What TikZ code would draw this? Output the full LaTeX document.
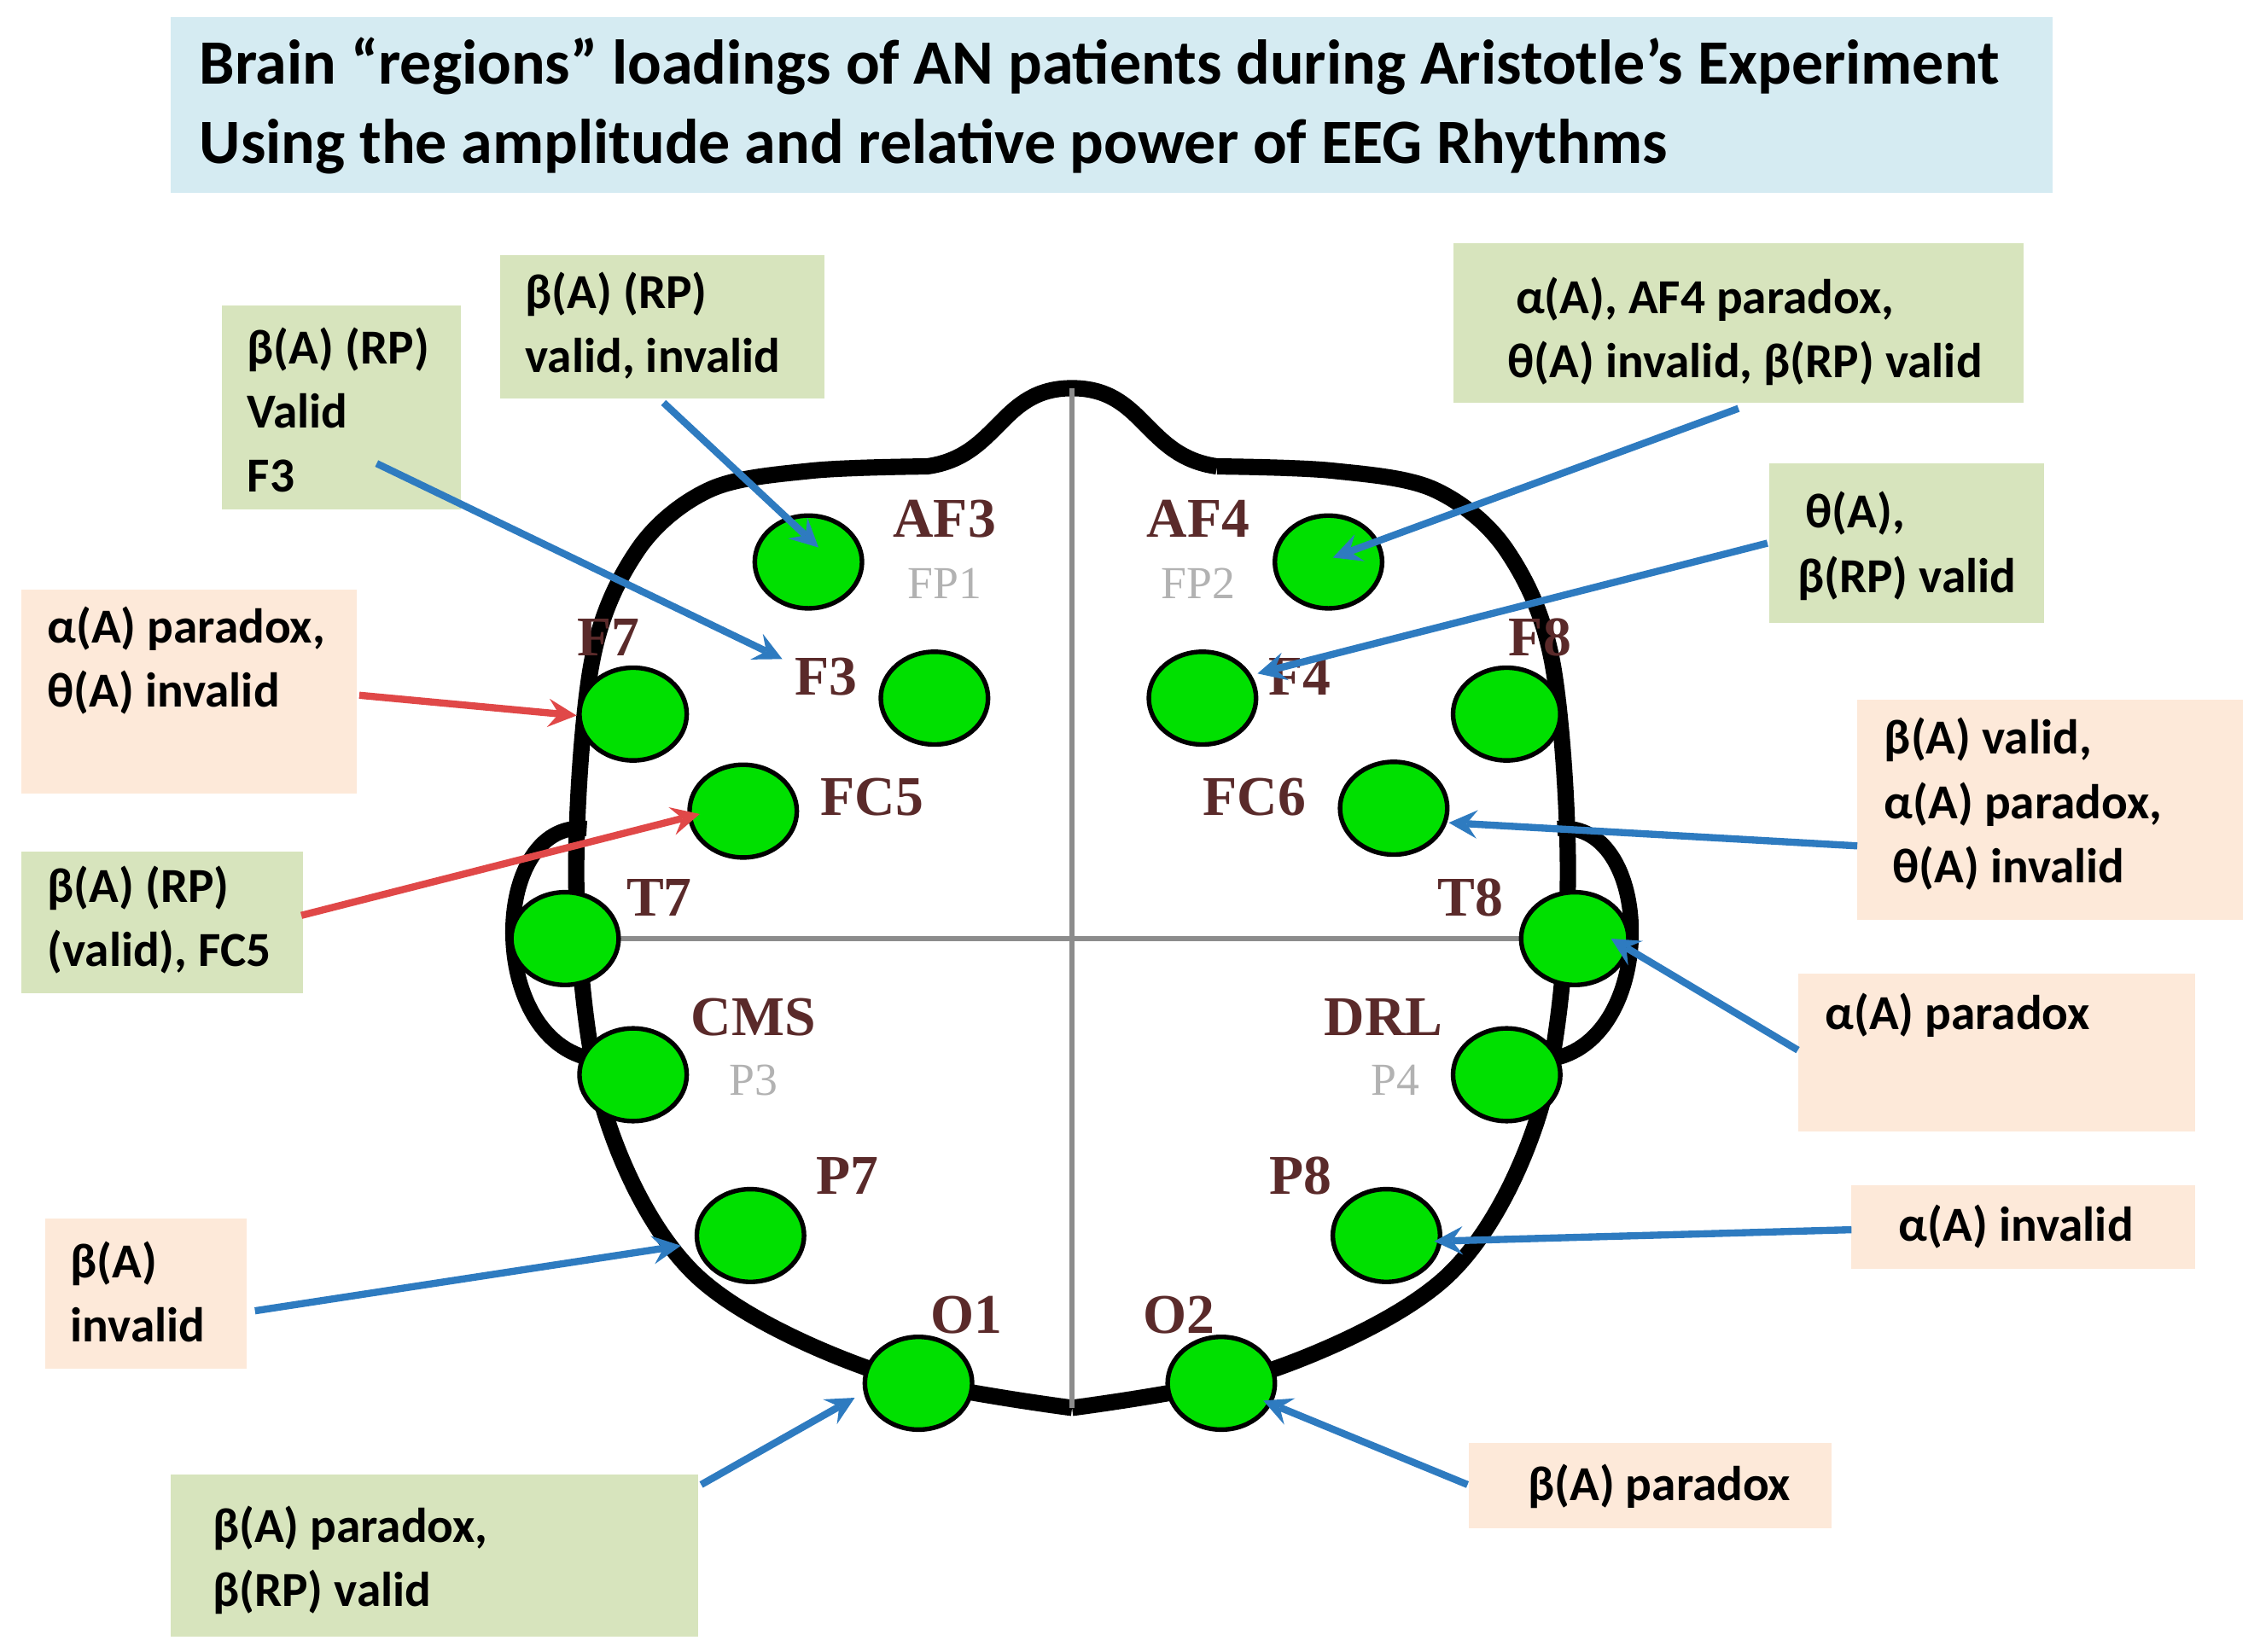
\documentclass[tikz,border=0pt]{standalone}
\usepackage{fontspec}
\usetikzlibrary{shapes.geometric}
\setmainfont{Carlito}
\newfontfamily\lblfont{Liberation Serif}
\begin{document}
\begin{tikzpicture}[x=0.01cm,y=-0.01cm,
 txt/.style={anchor=west,align=left,font=\bfseries\fontsize{9.6}{12.6}\selectfont,inner sep=0},
 el/.style={ellipse,draw=black,line width=0.9pt,fill=eg,minimum width=0.74cm,minimum height=0.64cm,inner sep=0},
 lab/.style={font=\lblfont\bfseries\fontsize{11}{12}\selectfont,text=lc,inner sep=0},
 glab/.style={font=\lblfont\fontsize{9}{10}\selectfont,text=black!30,inner sep=0},
 ba/.style={draw=ab,line width=1.4pt,-stealth},
 ra/.style={draw=ar,line width=1.4pt,-stealth}]
\definecolor{gbox}{HTML}{D7E4BD}\definecolor{pbox}{HTML}{FDE9D9}\definecolor{tbox}{HTML}{D5EBF2}
\definecolor{eg}{HTML}{00E000}\definecolor{lc}{HTML}{5A2A2A}
\definecolor{ab}{HTML}{2E7BC0}\definecolor{ar}{HTML}{E04848}
\useasboundingbox (0,0) rectangle (1560,1140);
% title
\fill[tbox] (118,12) rectangle (1417,133);
\node[txt,font=\bfseries\fontsize{12.4}{15.5}\selectfont] (title) at (137,73) {Brain “regions” loadings of AN patients during Aristotle’s Experiment\\Using the amplitude and relative power of EEG Rhythms};
% head
\draw[line width=3.2pt,line join=round] plot[smooth,tension=0.55] coordinates {(740,972) (600,945) (480,880) (418,770) (398,620) (408,460) (440,380) (490,338) (560,325) (640,322)}
 .. controls (690,315) and (690,268) .. (740,268) .. controls (790,268) and (790,315) .. (840,322)
 plot[smooth,tension=0.55] coordinates {(840,322) (920,325) (990,338) (1040,380) (1072,460) (1082,620) (1062,770) (1000,880) (880,945) (740,972)};
\draw[line width=3pt] (405,572) .. controls (335,565) and (335,730) .. (418,732);
\draw[line width=3pt] (1075,572) .. controls (1145,565) and (1145,730) .. (1062,732);
\draw[black!45,line width=1pt] (740,268) -- (740,972);
\draw[black!45,line width=1pt] (398,648) -- (1082,648);
% labels
\node[lab] (lAF3) at (652,358) {AF3}; \node[glab] (lFP1) at (652,403) {FP1};
\node[lab] (lAF4) at (827,358) {AF4}; \node[glab] (lFP2) at (827,403) {FP2};
\node[lab] (lF7) at (420,440) {F7}; \node[lab] (lF3) at (570,467) {F3};
\node[lab] (lF4) at (897,467) {F4}; \node[lab] (lF8) at (1063,440) {F8};
\node[lab] (lFC5) at (602,550) {FC5}; \node[lab] (lFC6) at (866,550) {FC6};
\node[lab] (lT7) at (455,620) {T7}; \node[lab] (lT8) at (1015,620) {T8};
\node[lab] (lCMS) at (520,702) {CMS}; \node[glab] (lP3) at (520,746) {P3};
\node[lab] (lDRL) at (955,702) {DRL}; \node[glab] (lP4) at (963,746) {P4};
\node[lab] (lP7) at (585,812) {P7}; \node[lab] (lP8) at (898,812) {P8};
\node[lab] (lO1) at (667,908) {O1}; \node[lab] (lO2) at (814,908) {O2};
% electrodes
\node[el] (AF3) at (558,388) {}; \node[el] (F7) at (437,493) {};
\node[el] (F3) at (645,482) {}; \node[el] (FC5) at (513,560) {};
\node[el] (T7) at (390,648) {}; \node[el] (CMS) at (437,742) {};
\node[el] (P7) at (518,853) {}; \node[el] (O1) at (634,955) {};
\node[el] (AF4) at (917,388) {}; \node[el] (F4) at (830,482) {};
\node[el] (F8) at (1040,493) {}; \node[el] (FC6) at (962,558) {};
\node[el] (T8) at (1087,648) {}; \node[el] (DRL) at (1040,742) {};
\node[el] (P8) at (957,853) {}; \node[el] (O2) at (843,955) {};
% boxes
\fill[gbox] (153,211) rectangle (318,352); \node[txt] (b1) at (170,283) {β(A) (RP)\\Valid\\F3};
\fill[gbox] (345,176) rectangle (569,275); \node[txt] (b2) at (362,225) {β(A) (RP)\\valid, invalid};
\fill[gbox] (1003,168) rectangle (1397,278); \node[txt] (b3) at (1040,229) {\,α(A), AF4 paradox,\\ θ(A) invalid, β(RP) valid};
\fill[gbox] (1221,320) rectangle (1411,430); \node[txt] (b4) at (1240,377) {\,θ(A),\\β(RP) valid};
\fill[pbox] (15,407) rectangle (246,548); \node[txt] (b5) at (32,456) {α(A) paradox,\\θ(A) invalid};
\fill[gbox] (15,588) rectangle (209,686); \node[txt] (b6) at (32,635) {β(A) (RP)\\(valid), FC5};
\fill[pbox] (1282,483) rectangle (1548,635); \node[txt] (b7) at (1300,555) {β(A) valid,\\α(A) paradox,\\\,θ(A) invalid};
\fill[pbox] (1241,672) rectangle (1515,781); \node[txt] (b8) at (1259,701) {α(A) paradox};
\fill[pbox] (1278,818) rectangle (1515,876); \node[txt] (b9) at (1310,847) {α(A) invalid};
\fill[pbox] (31,841) rectangle (170,945); \node[txt] (b10) at (48,892) {β(A)\\invalid};
\fill[gbox] (118,1018) rectangle (482,1130); \node[txt] (b11) at (146,1077) {β(A) paradox,\\β(RP) valid};
\fill[pbox] (1014,996) rectangle (1264,1055); \node[txt] (b12) at (1054,1026) {β(A) paradox};
% arrow coordinates
\coordinate (s1) at (260,320); \coordinate (e1) at (540,455);
\coordinate (s2) at (458,278); \coordinate (e2) at (565,378);
\coordinate (s3) at (1200,282); \coordinate (e3) at (920,385);
\coordinate (s4) at (1220,375); \coordinate (e4) at (868,465);
\coordinate (s5) at (248,480); \coordinate (e5) at (398,494);
\coordinate (s6) at (208,632); \coordinate (e6) at (483,562);
\coordinate (s7) at (1282,584); \coordinate (e7) at (1000,568);
\coordinate (s8) at (1241,725); \coordinate (e8) at (1112,648);
\coordinate (s9) at (1278,849); \coordinate (e9) at (990,857);
\coordinate (s10) at (176,905); \coordinate (e10) at (470,860);
\coordinate (s11) at (484,1025); \coordinate (e11) at (590,965);
\coordinate (s12) at (1013,1025); \coordinate (e12) at (872,967);
\draw[ba] (s1) -- (e1); \draw[ba] (s2) -- (e2); \draw[ba] (s3) -- (e3);
\draw[ba] (s4) -- (e4); \draw[ra] (s5) -- (e5); \draw[ra] (s6) -- (e6);
\draw[ba] (s7) -- (e7); \draw[ba] (s8) -- (e8); \draw[ba] (s9) -- (e9);
\draw[ba] (s10) -- (e10); \draw[ba] (s11) -- (e11); \draw[ba] (s12) -- (e12);
\end{tikzpicture}
\end{document}
